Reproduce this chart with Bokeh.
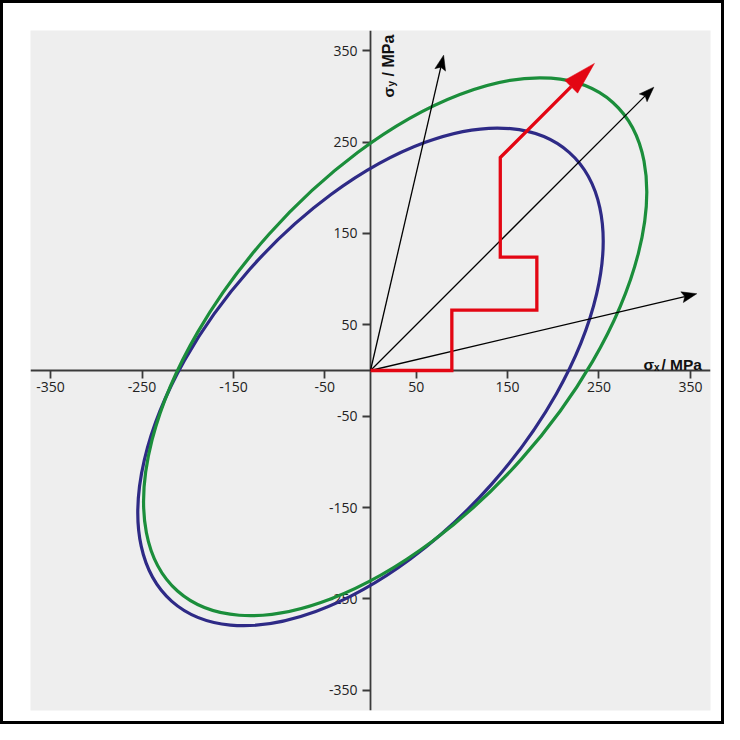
import numpy as np
from bokeh.plotting import figure
from bokeh.models import FixedTicker, Range1d
from bokeh.core.properties import value
from bokeh.embed import file_html
from bokeh.resources import INLINE

# ---------------- data ----------------
tick_values = [-350, -250, -150, -50, 50, 150, 250, 350]
tick_labels = ["-350", "-250", "-150", "-50", "50", "150", "250", "350"]

# yield ellipses (MPa): centre, semi-axes, rotation (deg)
ellipse_cx = [0, 27]
ellipse_cy = [-7, 26]
ellipse_a = [328, 358]
ellipse_b = [177, 185]
ellipse_angle_deg = [48.5, 48.3]
ellipse_colors = ["#2e2a86", "#1b8e3b"]

# radial (proportional) load paths: tips (MPa)
radial_tip_x = [80, 310, 357]
radial_tip_y = [345, 310, 84]

# non-proportional (stepped) load path (MPa)
path_x = [0, 89, 89, 182, 182, 142, 142, 245]
path_y = [0, 0, 66, 66, 124, 124, 233, 336]

# ---------------- figure ----------------
R = 372
p = figure(width=724, height=724, output_backend="svg", toolbar_location=None,
           x_range=Range1d(-R, R), y_range=Range1d(-R, R),
           min_border_left=30, min_border_right=14, min_border_top=30, min_border_bottom=14)
p.background_fill_color = "#eeeeee"
p.border_fill_color = None
p.outline_line_color = None
p.grid.visible = False
p.styles = {"background-color": "white", "box-shadow": "inset 0 0 0 3px black"}

axis_col = "#3a3a3a"
for ax in (p.xaxis, p.yaxis):
    ax.fixed_location = 0
    ax.ticker = FixedTicker(ticks=tick_values)
    ax.major_label_overrides = dict(zip(tick_values, tick_labels))
    ax.axis_line_color = axis_col
    ax.axis_line_width = 1.8
    ax.major_tick_line_color = axis_col
    ax.major_tick_line_width = 1.8
    ax.major_tick_in = 0
    ax.major_tick_out = 8
    ax.minor_tick_line_color = None
    ax.major_label_text_font = "Open Sans"
    ax.major_label_text_font_size = "14px"
    ax.major_label_text_color = "#222222"
    ax.level = "underlay"
p.xaxis.major_label_standoff = 3
p.yaxis.major_label_standoff = 5

# ellipses
p.ellipse(x=ellipse_cx, y=ellipse_cy,
          width=[2 * a for a in ellipse_a], height=[2 * b for b in ellipse_b],
          angle=[np.deg2rad(t) for t in ellipse_angle_deg],
          fill_color=None, line_color=ellipse_colors, line_width=3.2)


def head(x0, y0, x1, y1, length, width, notch):
    d = np.array([x1 - x0, y1 - y0], dtype=float)
    d /= np.hypot(*d)
    n = np.array([-d[1], d[0]])
    tip = np.array([x1, y1], dtype=float)
    base = tip - d * length
    left = base + n * width / 2
    right = base - n * width / 2
    inner = base + d * notch
    xs = [tip[0], left[0], inner[0], right[0]]
    ys = [tip[1], left[1], inner[1], right[1]]
    return xs, ys, inner


# radial arrows
hx, hy = [], []
for tx, ty in zip(radial_tip_x, radial_tip_y):
    xs, ys, inner = head(0, 0, tx, ty, 16.5, 12, 3.0)
    hx.append(xs)
    hy.append(ys)
    p.line([0, inner[0]], [0, inner[1]], line_color="black", line_width=1.3)
p.patches(hx, hy, fill_color="black", line_color="black", line_width=0.5)

# stepped red path with arrow
red = "#e30613"
xs, ys, inner = head(path_x[-2], path_y[-2], path_x[-1], path_y[-1], 36, 20, 0.0)
lx = list(path_x[:-1]) + [inner[0]]
ly = list(path_y[:-1]) + [inner[1]]
p.line(lx, ly, line_color=red, line_width=3.3, line_join="miter")
p.patch(xs, ys, fill_color=red, line_color=red, line_width=0.5)

# axis titles (rich text pieces)
s = 680 / (2 * R)
font = value("Liberation Sans")
fs_main = value("15.5px")
fs_sub = value("10px")
tc = "#111111"
# x title
p.text(x=[(643 - 370) / s], y=[(370 - 363.5) / s], text=["σ"], text_font=font,
       text_font_size=fs_main, text_font_style="bold", text_color=tc,
       text_align="left", text_baseline="alphabetic")
p.text(x=[(653.5 - 370) / s], y=[(370 - 367) / s], text=["x"], text_font=font,
       text_font_size=fs_sub, text_font_style="bold", text_color=tc,
       text_align="left", text_baseline="alphabetic")
p.text(x=[(661 - 370) / s], y=[(370 - 363.5) / s], text=["/ MPa"], text_font=font,
       text_font_size=fs_main, text_font_style="bold", text_color=tc,
       text_align="left", text_baseline="alphabetic")
# y title (rotated)
ang = np.pi / 2
p.text(x=[(387.5 - 370) / s], y=[(370 - 97) / s], text=["σ"], text_font=font,
       text_font_size=fs_main, text_font_style="bold", text_color=tc,
       text_align="left", text_baseline="alphabetic", angle=ang)
p.text(x=[(391 - 370) / s], y=[(370 - 86) / s], text=["y"], text_font=font,
       text_font_size=fs_sub, text_font_style="bold", text_color=tc,
       text_align="left", text_baseline="alphabetic", angle=ang)
p.text(x=[(387.5 - 370) / s], y=[(370 - 76) / s], text=["/ MPa"], text_font=font,
       text_font_size=value("16px"), text_font_style="bold", text_color=tc,
       text_align="left", text_baseline="alphabetic", angle=ang)

open("out.html", "w").write(file_html(p, INLINE))
